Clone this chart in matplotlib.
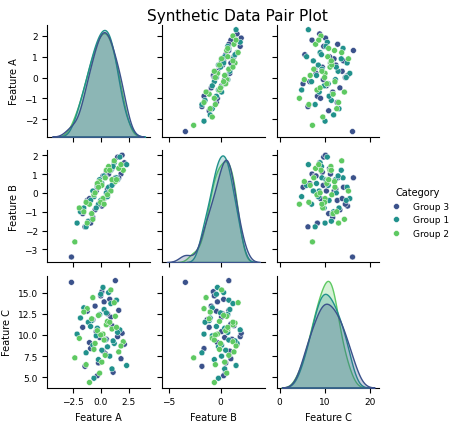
import matplotlib
matplotlib.use("Agg")
import matplotlib.pyplot as plt
import seaborn as sns
import pandas as pd

g3_a = [0.5,-1.2,1.8,0.1,-0.4,1.1,-2.6,0.7,-0.9,0.3,1.5,-0.2,0.9,-1.6,0.0,2.1,-0.7,0.4,1.3,-1.0,0.6,-0.3,1.9,-0.5,0.2,1.0,-1.4,0.8,-0.1,1.6]
g3_b = [1.1,-0.4,1.0,-0.7,0.1,0.5,-3.4,1.0,-1.6,-0.3,1.9,0.5,0.1,-1.1,-0.6,1.6,-1.3,0.9,0.8,-0.3,0.2,0.3,2.0,-0.9,0.9,1.3,-1.8,0.3,0.4,0.8]
g3_c = [9.5,12.8,7.2,15.1,10.4,5.6,16.2,11.3,8.4,13.9,9.8,6.7,12.1,10.9,14.6,8.9,11.8,7.8,16.4,9.1,12.5,5.2,10.2,13.4,8.1,11.1,6.3,14.2,9.7,12.9]

g1_a = [-0.3,0.8,-1.5,1.2,0.2,-0.8,2.3,-0.1,0.6,-2.1,1.4,-0.6,0.4,-1.1,0.9,-0.2,1.7,-1.8,0.1,0.7,-0.4,1.0,-0.9,0.3,-1.3,1.5,0.0,-0.7,0.5,1.1]
g1_b = [0.4,0.1,-0.8,1.6,-0.3,-1.1,1.5,0.7,-0.2,-1.6,0.8,-0.2,0.8,-1.5,1.2,-0.6,1.9,-1.0,0.5,0.3,-0.8,0.4,-0.4,0.9,-1.8,0.7,-0.4,0.1,0.0,1.4]
g1_c = [10.8,7.5,13.2,9.0,15.6,11.7,6.4,12.4,8.6,10.1,14.1,4.9,9.4,11.5,13.7,7.1,10.6,12.0,8.2,15.0,9.9,6.0,11.0,13.0,7.9,10.3,14.8,8.8,12.6,9.3]

g2_a = [0.2,-0.6,1.3,-1.9,0.7,-0.1,1.0,-1.2,0.4,2.0,-0.8,0.1,-0.3,1.6,-1.5,0.9,-0.5,0.5,-2.3,1.2,0.0,-1.0,0.6,1.8,-0.2,0.3,-0.7,1.4,-1.3,0.8]
g2_b = [-0.3,-0.1,0.6,-0.8,1.4,0.6,0.7,-1.6,0.8,1.2,-1.1,0.4,0.5,1.3,-1.0,0.1,0.0,1.2,-2.6,1.7,-0.5,-0.6,-0.1,1.5,0.3,-0.6,-1.4,0.7,-0.5,1.2]
g2_c = [10.1,8.3,12.2,9.6,11.4,5.5,10.7,13.1,7.6,9.2,11.9,6.8,10.5,8.0,12.7,15.3,9.0,11.2,7.3,13.8,10.0,4.4,11.6,8.7,12.3,9.4,14.4,10.9,6.5,11.5]

groups = ["Group 3", "Group 1", "Group 2"]

frames = []
for name, a, b, c in [("Group 3", g3_a, g3_b, g3_c), ("Group 1", g1_a, g1_b, g1_c), ("Group 2", g2_a, g2_b, g2_c)]:
    frames.append(pd.DataFrame({"Feature A": a, "Feature B": b, "Feature C": c, "Category": name}))
df = pd.concat(frames, ignore_index=True)

g = sns.pairplot(df, hue="Category", hue_order=groups, palette="viridis", height=1.35,
                 plot_kws=dict(s=18))
g.figure.set_size_inches(4.74, 4.27)
g.figure.suptitle("Synthetic Data Pair Plot", fontsize=11)
g.figure.subplots_adjust(left=0.1, right=0.8, bottom=0.09, top=0.94, wspace=0.12, hspace=0.12)
sns.move_legend(g, "center left", bbox_to_anchor=(0.8, 0.5), fontsize=6.5, title_fontsize=7, frameon=False)
for ax in g.axes.flat:
    ax.tick_params(labelsize=6.5)
    ax.xaxis.label.set_size(7)
    ax.yaxis.label.set_size(7)
g.figure.savefig("out.png", dpi=100)
